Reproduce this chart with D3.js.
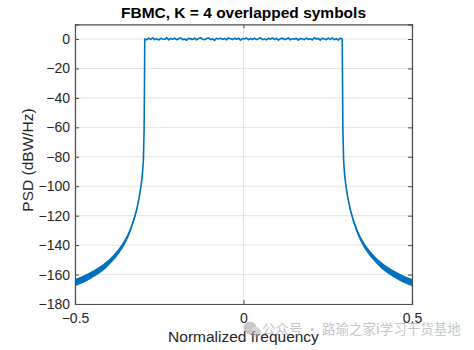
<!DOCTYPE html>
<html>
<head>
<meta charset="utf-8">
<script src="https://cdn.jsdelivr.net/npm/d3@7"></script>
<style>
  html, body { margin: 0; padding: 0; background: #fff; }
  svg { display: block; font-family: "Liberation Sans", Arial, sans-serif; }
</style>
</head>
<body>
<svg id="chart" width="474" height="350"></svg>
<script>
// Band edges of the active subcarriers (normalized frequency)
const bandEdge = 0.293;

// Flat top of the spectrum, evenly spaced across the active band (dB)
const passbandPsd = [
  0.3, -0.5, 0.6, -0.2, 0.8, -0.4, 0.1, -0.7, 0.5, 0.0, -0.3, 0.9, -0.6, 0.4, -0.1, 0.6,
  -0.5, 0.2, 0.7, -0.4, 0.0, -0.8, 0.5, 0.1, -0.3, 0.6, -0.6, 0.4, 0.9, -0.2, -0.5, 0.3,
  0.7, -0.4, 0.2, -0.9, 0.5, 0.0, 0.6, -0.3, 0.4, -0.6, 0.8, 0.1, -0.4, 0.5, -0.2, 0.6,
  -0.7, 0.3, 0.0, 0.7, -0.5, 0.4, -0.3, 0.6, -0.4, 0.2, 0.9, -0.5, 0.1, -0.6, 0.5, -0.1,
  0.7, -0.3, 0.4, -0.8, 0.2, 0.6, -0.4, 0.0, 0.8, -0.6, 0.3, -0.2, 0.5, -0.7, 0.4, 0.1,
  -0.5, 0.7, -0.3, 0.2, -0.6, 0.9, -0.1, 0.4, -0.8, 0.5, 0.0, -0.4, 0.6, -0.2, 0.8, -0.5,
  0.3, -0.7, 0.6, 0.1
];

// Out-of-band roll-off: distance past the band edge, mean PSD and spread (dB)
const skirtOffset = [0, 0.0008, 0.002, 0.004, 0.007, 0.010, 0.016, 0.024, 0.034, 0.045,
                     0.055, 0.075, 0.095, 0.115, 0.135, 0.160, 0.185, 0.207];
const skirtPsd    = [0, -30, -62, -82, -92, -98, -107, -116, -124, -131,
                     -136, -143.5, -149, -153.5, -157, -160.5, -163.5, -165.5];
const skirtSpread = [1.2, 1.2, 1.2, 1.5, 1.5, 1.8, 2.0, 2.4, 2.8, 3.2,
                     3.5, 3.8, 4.0, 4.3, 4.5, 4.7, 4.9, 5.0];

const xTicks = [-0.5, 0, 0.5];
const yTicks = [-180, -160, -140, -120, -100, -80, -60, -40, -20, 0];

const titleText = 'FBMC, K = 4 overlapped symbols';
const xLabel = 'Normalized frequency';
const yLabel = 'PSD (dBW/Hz)';
const watermark = '公众号 · 路瑜之家i学习干货基地';

const lineColor = '#0072bd';
const axisColor = '#4d4d4d';
const textColor = '#262626';

const svg = d3.select('#chart');
const plot = { left: 75, right: 412, top: 24.3, bottom: 304 };

const x = d3.scaleLinear().domain([-0.5, 0.5]).range([plot.left, plot.right]);
const y = d3.scaleLinear().domain([-180, 10]).range([plot.bottom, plot.top]);

// grid
const grid = svg.append('g').attr('class', 'grid');
grid.selectAll('.gx').data(xTicks).join('line')
  .attr('x1', d => x(d)).attr('x2', d => x(d))
  .attr('y1', plot.top).attr('y2', plot.bottom)
  .attr('stroke', '#e3e3e3').attr('stroke-width', 1);
grid.selectAll('.gy').data(yTicks).join('line')
  .attr('x1', plot.left).attr('x2', plot.right)
  .attr('y1', d => y(d)).attr('y2', d => y(d))
  .attr('stroke', '#e3e3e3').attr('stroke-width', 1);

// assemble the spectrum: left skirt, passband, right skirt
const leftSkirt = skirtOffset.map((o, i) => ({ f: -bandEdge - o, v: skirtPsd[i], s: skirtSpread[i] })).reverse();
const rightSkirt = skirtOffset.map((o, i) => ({ f: bandEdge + o, v: skirtPsd[i], s: skirtSpread[i] }));
const flat = passbandPsd.map((v, i) => ({
  f: -bandEdge + (2 * bandEdge) * i / (passbandPsd.length - 1), v, s: 0.8
}));

svg.append('clipPath').attr('id', 'clip').append('rect')
  .attr('x', plot.left).attr('y', plot.top)
  .attr('width', plot.right - plot.left).attr('height', plot.bottom - plot.top);
const spectrum = svg.append('g').attr('clip-path', 'url(#clip)');

const band = d3.area()
  .x(d => x(d.f))
  .y0(d => y(d.v - d.s / 2))
  .y1(d => y(d.v + d.s / 2))
  .curve(d3.curveMonotoneX);

[leftSkirt, rightSkirt].forEach(seg => {
  spectrum.append('path').datum(seg)
    .attr('d', band)
    .attr('fill', lineColor);
});

const line = d3.line().x(d => x(d.f)).y(d => y(d.v));
spectrum.append('path')
  .datum(leftSkirt.concat(flat.slice(1, -1), rightSkirt))
  .attr('d', line)
  .attr('fill', 'none')
  .attr('stroke', lineColor)
  .attr('stroke-width', 1.6)
  .attr('stroke-linejoin', 'round');

// axes (ticks point inward, box on)
const fmtX = d => d === 0 ? '0' : d3.format('.1f')(d);
const axB = svg.append('g').attr('transform', `translate(0,${plot.bottom})`)
  .call(d3.axisBottom(x).tickValues(xTicks).tickFormat(fmtX).tickSize(-4).tickPadding(9));
const axL = svg.append('g').attr('transform', `translate(${plot.left},0)`)
  .call(d3.axisLeft(y).tickValues(yTicks).tickSize(-4).tickPadding(5));
const axT = svg.append('g').attr('transform', `translate(0,${plot.top})`)
  .call(d3.axisTop(x).tickValues(xTicks).tickFormat('').tickSize(-4));
const axR = svg.append('g').attr('transform', `translate(${plot.right},0)`)
  .call(d3.axisRight(y).tickValues(yTicks).tickFormat('').tickSize(-4));

[axB, axL, axT, axR].forEach(g => {
  g.select('.domain').attr('stroke', axisColor).attr('stroke-width', 1.2);
  g.selectAll('.tick line').attr('stroke', axisColor);
  g.selectAll('.tick text').attr('fill', textColor).attr('font-size', 14)
    .attr('font-family', '"Liberation Sans", Arial, sans-serif');
});

// labels
svg.append('text')
  .attr('x', (plot.left + plot.right) / 2).attr('y', 18)
  .attr('text-anchor', 'middle').attr('font-weight', 'bold')
  .attr('font-size', 15.5).attr('fill', '#000')
  .text(titleText);

svg.append('text')
  .attr('x', (plot.left + plot.right) / 2).attr('y', 341.5)
  .attr('text-anchor', 'middle').attr('font-size', 15.5).attr('fill', textColor)
  .text(xLabel);

svg.append('text')
  .attr('transform', 'translate(33,160) rotate(-90)')
  .attr('text-anchor', 'middle').attr('font-size', 15.5).attr('fill', textColor)
  .text(yLabel);

// watermark
const wm = svg.append('g').attr('opacity', 0.55);
wm.append('circle').attr('cx', 250).attr('cy', 328).attr('r', 6.5).attr('fill', '#9a9a9a');
wm.append('circle').attr('cx', 256).attr('cy', 332).attr('r', 5).attr('fill', '#b5b5b5');
wm.append('text')
  .attr('x', 262).attr('y', 334)
  .attr('font-family', '"Noto Sans CJK SC", sans-serif')
  .attr('font-size', 13.5).attr('fill', '#999')
  .text(watermark);
</script>
</body>
</html>
